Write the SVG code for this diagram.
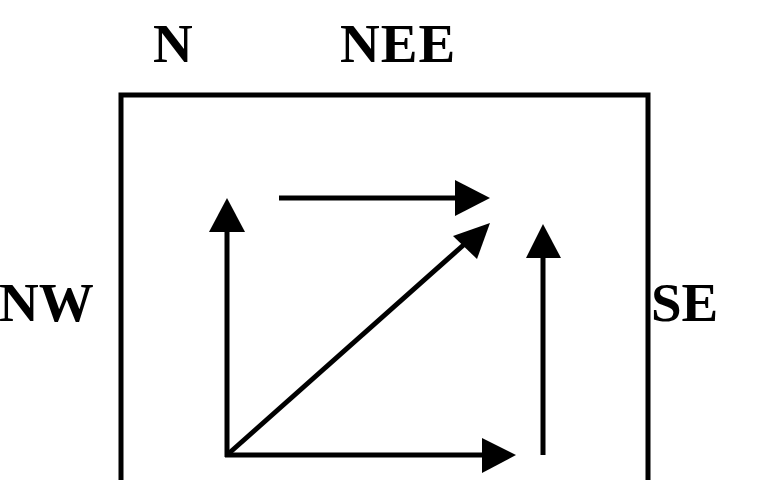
<svg xmlns="http://www.w3.org/2000/svg" width="772" height="480" viewBox="0 0 772 480">
<style>
.lbl{font-family:"Liberation Serif","Times New Roman",serif;font-weight:bold;font-size:55px;fill:#000}
.ln{stroke:#000;stroke-width:5;fill:none}
.hd{fill:#000}
</style>
<rect width="772" height="480" fill="#fff"/>
<g id="box"><path class="ln" d="M121,482 V95 H648 V482"/></g>
<g id="labels">
<text id="N" class="lbl" x="153" y="62">N</text>
<text id="NEE" class="lbl" x="340" y="62" letter-spacing="1">NEE</text>
<text id="NW" class="lbl" x="-1" y="321">NW</text>
<text id="SE" class="lbl" x="651" y="321">SE</text>
</g>
<g id="connectors">
<line class="ln" x1="227" y1="457" x2="227" y2="228"/>
<polygon class="hd" points="227,198 209,232 245,232"/>
<line class="ln" x1="279" y1="198" x2="458" y2="198"/>
<polygon class="hd" points="490,198 455,180 455,216"/>
<line class="ln" x1="227" y1="455" x2="468" y2="241"/>
<polygon class="hd" points="490,223 453,236 477,259"/>
<line class="ln" x1="543" y1="455" x2="543" y2="254"/>
<polygon class="hd" points="543,224 526,258 561,258"/>
<line class="ln" x1="225" y1="455" x2="485" y2="455"/>
<polygon class="hd" points="516,455 482,438 482,473"/>
</g>
</svg>
